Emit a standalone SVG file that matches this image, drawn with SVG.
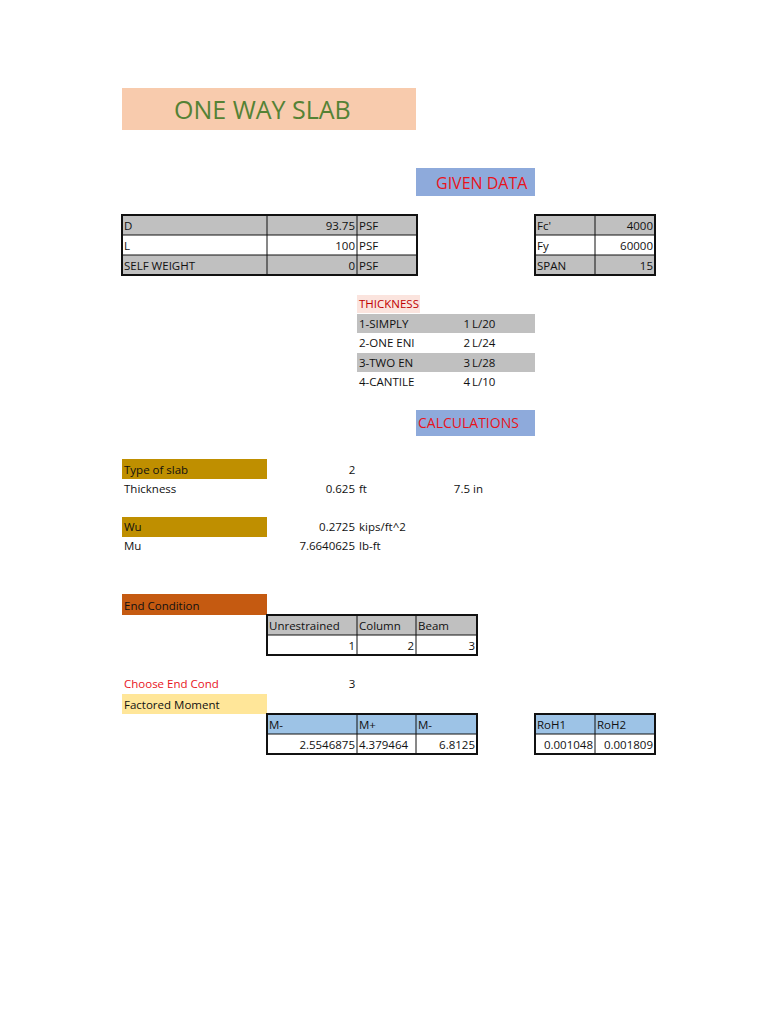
<svg xmlns="http://www.w3.org/2000/svg" width="768" height="1024" viewBox="0 0 768 1024">
<style>
text{font-family:"Open Sans","Liberation Sans",sans-serif;font-size:11.5px;fill:#111}
.r{text-anchor:end}
.red{fill:#e8141c}
.tb{fill:none;stroke:#111;stroke-width:2}
.ln{stroke:#111;stroke-width:1}
.g{fill:#c0c0c0}
.bl{fill:#9dc3e6}
</style>
<rect width="768" height="1024" fill="#fff"/>
<g id="title"><rect x="122" y="88" width="294" height="42" fill="#f8cbad"/><text x="174" y="119" style="font-size:25px;fill:#548235">ONE WAY SLAB</text></g>
<g id="given"><rect x="416" y="168" width="119" height="28" fill="#8eaadb"/><text x="436" y="189" class="red" style="font-size:16px">GIVEN DATA</text></g>
<g id="loads">
<rect x="122" y="215" width="295" height="20" class="g"/><rect x="122" y="255" width="295" height="20" class="g"/>
<rect x="122" y="215" width="295" height="60" class="tb"/>
<line x1="122" y1="235" x2="417" y2="235" class="ln"/><line x1="122" y1="255" x2="417" y2="255" class="ln"/>
<line x1="267" y1="215" x2="267" y2="275" class="ln"/><line x1="357" y1="215" x2="357" y2="275" class="ln"/>
<text x="124" y="230">D</text><text x="355" y="230" class="r">93.75</text><text x="359" y="230">PSF</text>
<text x="124" y="250">L</text><text x="355" y="250" class="r">100</text><text x="359" y="250">PSF</text>
<text x="124" y="270">SELF WEIGHT</text><text x="355" y="270" class="r">0</text><text x="359" y="270">PSF</text>
</g>
<g id="material">
<rect x="535" y="215" width="120" height="20" class="g"/><rect x="535" y="255" width="120" height="20" class="g"/>
<rect x="535" y="215" width="120" height="60" class="tb"/>
<line x1="535" y1="235" x2="655" y2="235" class="ln"/><line x1="535" y1="255" x2="655" y2="255" class="ln"/>
<line x1="595" y1="215" x2="595" y2="275" class="ln"/>
<text x="537" y="230">Fc'</text><text x="653" y="230" class="r">4000</text>
<text x="537" y="250">Fy</text><text x="653" y="250" class="r">60000</text>
<text x="537" y="270">SPAN</text><text x="653" y="270" class="r">15</text>
</g>
<g id="thickness">
<rect x="357" y="295" width="63" height="18" fill="#fbe4de"/>
<text x="359" y="308" class="red" style="fill:#c00000">THICKNESS</text>
<rect x="357" y="314" width="178" height="19" class="g"/><rect x="357" y="353" width="178" height="19" class="g"/>
<text x="359" y="328">1-SIMPLY</text><text x="470" y="328" class="r">1</text><text x="472" y="328">L/20</text>
<text x="359" y="347">2-ONE ENI</text><text x="470" y="347" class="r">2</text><text x="472" y="347">L/24</text>
<text x="359" y="367">3-TWO EN</text><text x="470" y="367" class="r">3</text><text x="472" y="367">L/28</text>
<text x="359" y="386">4-CANTILE</text><text x="470" y="386" class="r">4</text><text x="472" y="386">L/10</text>
</g>
<g id="calc"><rect x="416" y="410" width="119" height="26" fill="#8eaadb"/><text x="418" y="428" class="red" style="font-size:14px">CALCULATIONS</text></g>
<g id="slab">
<rect x="122" y="459" width="145" height="20" fill="#bf8f00"/>
<text x="124" y="474">Type of slab</text><text x="352" y="474" style="text-anchor:middle">2</text>
<text x="124" y="493">Thickness</text><text x="355" y="493" class="r">0.625</text><text x="359" y="493">ft</text>
<text x="470" y="493" class="r">7.5</text><text x="473" y="493">in</text>
<rect x="122" y="517" width="145" height="20" fill="#bf8f00"/>
<text x="124" y="531">Wu</text><text x="355" y="531" class="r">0.2725</text><text x="359" y="531">kips/ft^2</text>
<text x="124" y="550">Mu</text><text x="355" y="550" class="r">7.6640625</text><text x="359" y="550">lb-ft</text>
</g>
<g id="endcond">
<rect x="122" y="594" width="145" height="21" fill="#c55a11"/>
<text x="124" y="610">End Condition</text>
<rect x="267" y="615" width="210" height="20" class="g"/>
<rect x="267" y="615" width="210" height="40" class="tb"/>
<line x1="267" y1="635" x2="477" y2="635" class="ln"/>
<line x1="357" y1="615" x2="357" y2="655" class="ln"/><line x1="416" y1="615" x2="416" y2="655" class="ln"/>
<text x="269" y="630">Unrestrained</text><text x="359" y="630">Column</text><text x="418" y="630">Beam</text>
<text x="355" y="650" class="r">1</text><text x="414" y="650" class="r">2</text><text x="475" y="650" class="r">3</text>
</g>
<g id="moment">
<text x="124" y="688" class="red">Choose End Cond</text><text x="352" y="688" style="text-anchor:middle">3</text>
<rect x="122" y="694" width="145" height="20" fill="#ffe699"/>
<text x="124" y="709">Factored Moment</text>
<rect x="267" y="714" width="210" height="20" class="bl"/>
<rect x="267" y="714" width="210" height="40" class="tb"/>
<line x1="267" y1="734" x2="477" y2="734" class="ln"/>
<line x1="357" y1="714" x2="357" y2="754" class="ln"/><line x1="416" y1="714" x2="416" y2="754" class="ln"/>
<text x="269" y="729">M-</text><text x="359" y="729">M+</text><text x="418" y="729">M-</text>
<text x="355" y="749" class="r">2.5546875</text><text x="359" y="749">4.379464</text><text x="475" y="749" class="r">6.8125</text>
</g>
<g id="roh">
<rect x="535" y="714" width="120" height="20" class="bl"/>
<rect x="535" y="714" width="120" height="40" class="tb"/>
<line x1="535" y1="734" x2="655" y2="734" class="ln"/><line x1="595" y1="714" x2="595" y2="754" class="ln"/>
<text x="537" y="729">RoH1</text><text x="597" y="729">RoH2</text>
<text x="593" y="749" class="r">0.001048</text><text x="653" y="749" class="r">0.001809</text>
</g>
</svg>
